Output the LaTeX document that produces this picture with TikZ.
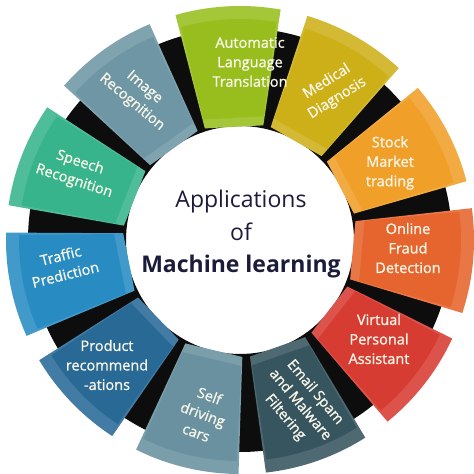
\documentclass[tikz,border=0pt]{standalone}
\usepackage{fontspec}
\setmainfont{Open Sans}
\newfontfamily\labfont{Open Sans}[FakeBold=1.1]
\definecolor{cAuto}{HTML}{98BE1E}
\definecolor{cMed}{HTML}{CDAF18}
\definecolor{cStock}{HTML}{F0A028}
\definecolor{cOnline}{HTML}{E6642D}
\definecolor{cVirt}{HTML}{D73C32}
\definecolor{cEmail}{HTML}{37555F}
\definecolor{cSelf}{HTML}{6991A0}
\definecolor{cProd}{HTML}{286996}
\definecolor{cTraf}{HTML}{288CC3}
\definecolor{cSpeech}{HTML}{37B48C}
\definecolor{cImage}{HTML}{6E96A5}
\definecolor{labcol}{HTML}{F8F6E8}
\definecolor{navy}{HTML}{1B1B3A}
\tikzset{
  lab/.style={text=labcol, font=\labfont\fontsize{14.5}{19.5}\selectfont, align=center, inner sep=0pt},
  ctr/.style={text=navy, font=\fontsize{23}{32}\selectfont, anchor=base, inner sep=0pt}
}
\begin{document}
\begin{tikzpicture}[x=1pt,y=1pt]
\useasboundingbox (-240,-234) rectangle (234,240);
\fill[white] (-240,-234) rectangle (234,240);
% black side faces
\fill[black!95, even odd rule] (0,0) circle[radius=212] (0,0) circle[radius=114];
% segments
\foreach \c [count=\k from 0] in {cAuto,cMed,cStock,cOnline,cVirt,cEmail,cSelf,cProd,cTraf,cSpeech,cImage}{
  \pgfmathsetmacro\a{93-32.7273*\k}
  \fill[\c!88!white] (\a+14.5:117) -- (\a-14.5:117) -- (\a-13:234)
     arc[start angle=\a-13, end angle=\a+13, radius=234] -- cycle;
  \fill[\c] (\a+13.9:126) -- (\a-13.9:126) -- (\a-12.5:221)
     arc[start angle=\a-12.5, end angle=\a+12.5, radius=221] -- cycle;
}
% labels
\node[lab] (auto) at (10,178) {Automatic\\Language\\Translation};
\node[lab, rotate=32] (med) at (92,150) {Medical\\Diagnosis};
\node[lab] (stock) at (150,77) {Stock\\Market\\trading};
\node[lab] (online) at (168,-8) {Online\\Fraud\\Detection};
\node[lab] (virt) at (139,-99) {Virtual\\Personal\\Assistant};
\node[lab, rotate=-50] (email) at (60,-165) {Email Spam\\and Malware\\Filtering};
\node[lab, rotate=-20] (self) at (-37,-174) {Self\\driving\\cars};
\node[lab] (prod) at (-133,-125) {Product\\recommend\\-ations};
\node[lab, rotate=14] (traf) at (-177,-25) {Traffic\\Prediction};
\node[lab, rotate=-18] (speech) at (-163,68) {Speech\\Recognition};
\node[lab, rotate=-40] (image) at (-102,145) {Image\\Recognition};
% centre
\node[ctr] (t1) at (1,32) {Applications};
\node[ctr] (t2) at (1,-1) {of};
\node[ctr, font=\fontsize{23}{32}\selectfont\bfseries] (t3) at (1,-32) {Machine learning};
\end{tikzpicture}
\end{document}
